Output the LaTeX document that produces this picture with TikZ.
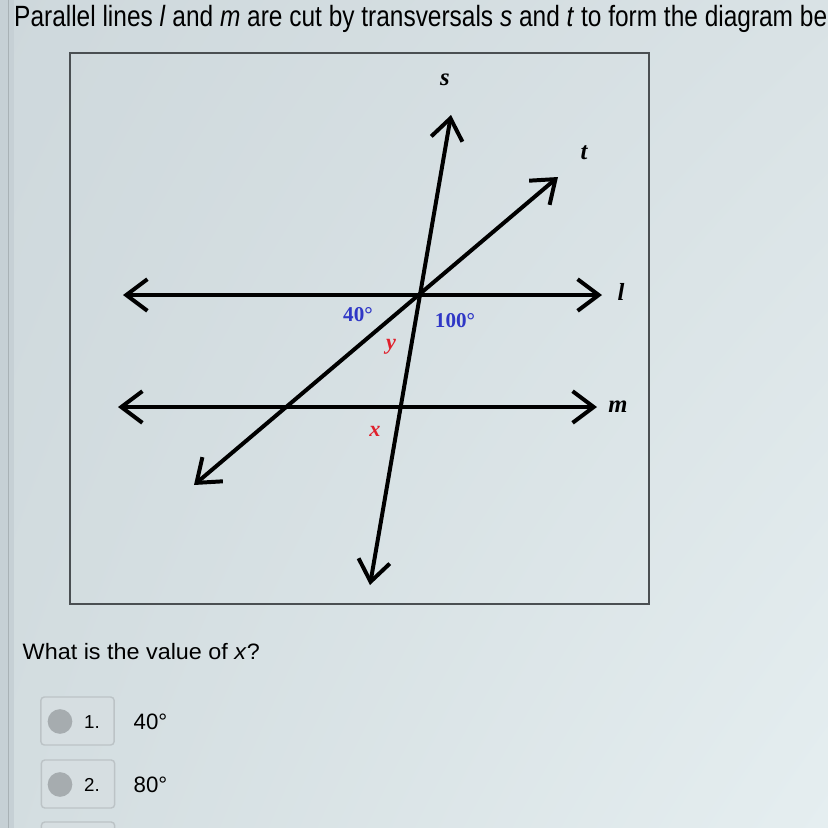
\documentclass[tikz,border=0pt]{standalone}
\usepackage{fontspec}
\setmainfont{Liberation Sans}
\newfontfamily\lblfont{Liberation Serif}
\usepackage{xcolor}
\usetikzlibrary{arrows.meta,shadings}

\definecolor{bgul}{HTML}{CED8DC}
\definecolor{bgur}{HTML}{D9E2E5}
\definecolor{bgll}{HTML}{D3DDE0}
\definecolor{bglr}{HTML}{E5EEF0}
\definecolor{stripgray}{HTML}{C6D0D5}
\definecolor{framegray}{HTML}{4A4F52}
\definecolor{optborder}{HTML}{BCC3C6}
\definecolor{optfill}{HTML}{D6DEE1}
\definecolor{dotgray}{HTML}{A6ACAF}
\definecolor{anglblue}{HTML}{2F37C6}
\definecolor{varred}{HTML}{E0202C}

\tikzset{
  dline/.style={line width=3.4pt, >={Straight Barb[length=18pt,width=27pt]}, <->},
  linelbl/.style={font=\lblfont\bfseries\itshape\fontsize{21}{24}\selectfont},
  angllbl/.style={text=anglblue, font=\lblfont\bfseries\fontsize{18}{22}\selectfont},
  varlbl/.style={text=varred, font=\lblfont\bfseries\itshape\fontsize{19}{22}\selectfont},
  optbox/.style={draw=optborder, fill=optfill, line width=1.2pt, rounded corners=3pt,
    minimum width=2.2cm, minimum height=1.44cm, inner sep=0pt},
  optdot/.style={circle, fill=dotgray, minimum size=0.74cm, inner sep=0pt},
  optnum/.style={anchor=base west, inner sep=0pt, font=\fontsize{16}{19}\selectfont},
  optval/.style={anchor=base west, inner sep=0pt, font=\fontsize{19}{23}\selectfont}
}

\begin{document}
\begin{tikzpicture}[x=0.03cm,y=-0.03cm]
  \useasboundingbox (0,0) rectangle (828,828);
  \clip (0,0) rectangle (828,828);
  % screen background
  \shade[upper left=bgul, upper right=bgur, lower left=bgll, lower right=bglr] (0,0) rectangle (828,828);
  \fill[stripgray] (0,0) rectangle (14,828);
  \draw[stripgray!85!black, line width=0.6pt] (8,0) -- (8,828);

  % question text
  \node[anchor=base west, inner sep=0pt, font=\fontsize{25}{30}\selectfont] (title) at (14,26)
    {\scalebox{0.835}[1]{Parallel lines \textit{l} and \textit{m} are cut by transversals \textit{s} and \textit{t} to form the diagram be}};

  % diagram frame
  \draw[framegray, line width=1.1pt] (70,53) rectangle (649,604);

  % end points of the lines
  \coordinate (lW) at (123,295);
  \coordinate (lE) at (602,295);
  \coordinate (mW) at (118,407);
  \coordinate (mE) at (597,407);
  \coordinate (sN) at (451,115);
  \coordinate (sS) at (370,585);
  \coordinate (tNE) at (558,177);
  \coordinate (tSW) at (194,485);

  \draw[dline] (lW) -- (lE);
  \draw[dline] (mW) -- (mE);
  \draw[dline] (sS) -- (sN);
  \draw[dline] (tSW) -- (tNE);

  % line names
  \node[linelbl] (slbl) at (445,80) {s};
  \node[linelbl] (tlbl) at (584,153) {t};
  \node[linelbl] (llbl) at (621,292) {l};
  \node[linelbl] (mlbl) at (618,407) {m};

  % angles
  \node[angllbl] (a40) at (358,315) {40°};
  \node[angllbl] (a100) at (455,321) {100°};
  \node[varlbl] (ylbl) at (391,347) {y};
  \node[varlbl] (xlbl) at (375,431) {x};

  % question and options
  \node[anchor=base west, inner sep=0pt, font=\fontsize{19}{23}\selectfont] (question) at (22.5,659)
    {\scalebox{1.05}[1]{What is the value of \textit{x}?}};

  \node[optbox] (opt1) at (77.5,721) {};
  \node[optdot] (dot1) at (60,721.5) {};
  \node[optnum] (num1) at (84,728) {1.};
  \node[optval] (val1) at (133.5,729) {40°};

  \node[optbox] (opt2) at (78,784) {};
  \node[optdot] (dot2) at (60,784.5) {};
  \node[optnum] (num2) at (84,791) {2.};
  \node[optval] (val2) at (133.5,792) {80°};

  \node[optbox] (opt3) at (78,846) {};
\end{tikzpicture}
\end{document}
